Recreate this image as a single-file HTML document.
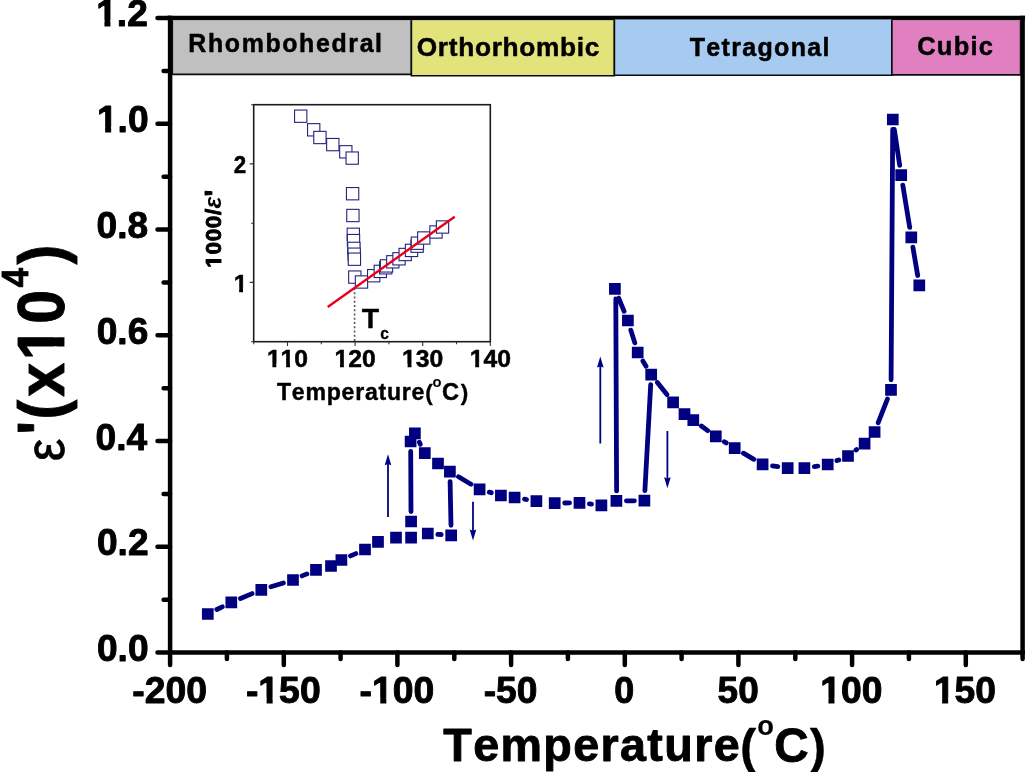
<!DOCTYPE html>
<html lang="en"><head><meta charset="utf-8"><title>Dielectric constant vs temperature</title>
<style>html,body{margin:0;padding:0;background:#fff;}body{width:1025px;height:772px;overflow:hidden;}svg{display:block;}</style>
</head><body>
<svg width="1025" height="772" viewBox="0 0 1025 772" font-family="'Liberation Sans', Arial, sans-serif" style="font-kerning:none">
<rect x="0" y="0" width="1025" height="772" fill="#ffffff"/>
<g stroke="#000" stroke-width="4.5" stroke-linecap="round" fill="none">
<path d="M170.1 18.0 V652.6 M170.1 652.6 H1025.6 M1022.6 18.0 V652.6" stroke-linecap="square"/>
<path d="M170.1 18.1 H1025.6" stroke-width="4.9" stroke-linecap="square"/>
<path d="M170.1 652.6 V664.9 M226.9 652.6 V659.0 M283.8 652.6 V664.9 M340.6 652.6 V659.0 M397.4 652.6 V664.9 M454.3 652.6 V659.0 M511.1 652.6 V664.9 M567.9 652.6 V659.0 M624.8 652.6 V664.9 M681.6 652.6 V659.0 M738.4 652.6 V664.9 M795.3 652.6 V659.0 M852.1 652.6 V664.9 M908.9 652.6 V659.0 M965.8 652.6 V664.9 M1022.6 652.6 V659.0 M170.1 652.6 H157.5 M170.1 599.7 H163.6 M170.1 546.8 H157.5 M170.1 493.9 H163.6 M170.1 441.1 H157.5 M170.1 388.2 H163.6 M170.1 335.3 H157.5 M170.1 282.4 H163.6 M170.1 229.5 H157.5 M170.1 176.7 H163.6 M170.1 123.8 H157.5 M170.1 70.9 H163.6 M170.1 18.0 H157.5 "/>
</g>
<rect x="172.3" y="20.3" width="239.1" height="54.1" fill="#c0c0c0"/>
<path d="M172.3 20.3V74.4H411.4V20.3" fill="none" stroke="#0c0c0c" stroke-width="1.6"/>
<rect x="411.4" y="20.3" width="203.0" height="55.5" fill="#e3e37c"/>
<path d="M411.4 20.3V75.8H614.4V20.3" fill="none" stroke="#0c0c0c" stroke-width="1.6"/>
<rect x="614.4" y="19.4" width="277.5" height="55.9" fill="#a6caf0"/>
<path d="M614.4 19.4V75.3H891.9V19.4" fill="none" stroke="#0c0c0c" stroke-width="1.6"/>
<rect x="891.9" y="20.4" width="128.7" height="54.5" fill="#e080c0"/>
<path d="M891.9 20.4V74.9H1020.6V20.4" fill="none" stroke="#0c0c0c" stroke-width="1.6"/>
<g fill="#000">
<text transform="translate(132.24 703.18) scale(1.0162 1.0000)" font-size="36.76" font-weight="bold" stroke="#000" stroke-width="0.9" stroke-linejoin="round" vector-effect="non-scaling-stroke">-200</text>
<text transform="translate(245.91 703.18) scale(1.0162 1.0000)" font-size="36.76" font-weight="bold" stroke="#000" stroke-width="0.9" stroke-linejoin="round" vector-effect="non-scaling-stroke">-150</text>
<text transform="translate(359.58 703.18) scale(1.0162 1.0000)" font-size="36.76" font-weight="bold" stroke="#000" stroke-width="0.9" stroke-linejoin="round" vector-effect="non-scaling-stroke">-100</text>
<text transform="translate(483.75 703.18) scale(1.0110 1.0000)" font-size="36.76" font-weight="bold" stroke="#000" stroke-width="0.9" stroke-linejoin="round" vector-effect="non-scaling-stroke">-50</text>
<text transform="translate(614.30 703.18) scale(0.9774 1.0000)" font-size="36.76" font-weight="bold" stroke="#000" stroke-width="0.9" stroke-linejoin="round" vector-effect="non-scaling-stroke">0</text>
<text transform="translate(717.61 703.18) scale(1.0054 1.0000)" font-size="36.76" font-weight="bold" stroke="#000" stroke-width="0.9" stroke-linejoin="round" vector-effect="non-scaling-stroke">50</text>
<text transform="translate(820.22 703.18) scale(1.0133 1.0000)" font-size="36.76" font-weight="bold" stroke="#000" stroke-width="0.9" stroke-linejoin="round" vector-effect="non-scaling-stroke">100</text>
<text transform="translate(933.88 703.18) scale(1.0133 1.0000)" font-size="36.76" font-weight="bold" stroke="#000" stroke-width="0.9" stroke-linejoin="round" vector-effect="non-scaling-stroke">150</text>
<text transform="translate(96.92 661.08) scale(0.9988 1.0000)" font-size="37.18" font-weight="bold" stroke="#000" stroke-width="0.9" stroke-linejoin="round" vector-effect="non-scaling-stroke">0.0</text>
<text transform="translate(96.92 555.31) scale(0.9988 1.0000)" font-size="37.18" font-weight="bold" stroke="#000" stroke-width="0.9" stroke-linejoin="round" vector-effect="non-scaling-stroke">0.2</text>
<text transform="translate(95.59 449.54) scale(0.9992 1.0000)" font-size="37.18" font-weight="bold" stroke="#000" stroke-width="0.9" stroke-linejoin="round" vector-effect="non-scaling-stroke">0.4</text>
<text transform="translate(96.73 343.78) scale(0.9988 1.0000)" font-size="37.18" font-weight="bold" stroke="#000" stroke-width="0.9" stroke-linejoin="round" vector-effect="non-scaling-stroke">0.6</text>
<text transform="translate(96.54 238.01) scale(0.9989 1.0000)" font-size="37.18" font-weight="bold" stroke="#000" stroke-width="0.9" stroke-linejoin="round" vector-effect="non-scaling-stroke">0.8</text>
<text transform="translate(96.93 132.24) scale(0.9985 1.0000)" font-size="37.18" font-weight="bold" stroke="#000" stroke-width="0.9" stroke-linejoin="round" vector-effect="non-scaling-stroke">1.0</text>
<text transform="translate(96.23 25.95) scale(0.9844 1.0000)" font-size="37.71" font-weight="bold" stroke="#000" stroke-width="0.9" stroke-linejoin="round" vector-effect="non-scaling-stroke">1.2</text>
<text transform="translate(188.33 52.30) scale(1.0000 1.0000)" font-size="24.90" font-weight="bold" stroke="#000" stroke-width="0.5" stroke-linejoin="round" vector-effect="non-scaling-stroke" letter-spacing="1.644">Rhombohedral</text>
<text transform="translate(416.70 55.99) scale(1.0000 1.0000)" font-size="26.26" font-weight="bold" stroke="#000" stroke-width="0.5" stroke-linejoin="round" vector-effect="non-scaling-stroke" letter-spacing="0.702">Orthorhombic</text>
<text transform="translate(689.70 55.79) scale(1.0000 1.0000)" font-size="25.03" font-weight="bold" stroke="#000" stroke-width="0.5" stroke-linejoin="round" vector-effect="non-scaling-stroke" letter-spacing="1.321">Tetragonal</text>
<text transform="translate(917.23 55.40) scale(1.0000 1.0000)" font-size="25.44" font-weight="bold" stroke="#000" stroke-width="0.5" stroke-linejoin="round" vector-effect="non-scaling-stroke" letter-spacing="1.245">Cubic</text>
<text transform="translate(443.00 762.00)" stroke-linejoin="round" vector-effect="non-scaling-stroke"><tspan x="0.28" y="-0.65" font-size="46.67" letter-spacing="1.373" font-weight="bold" stroke="#000" stroke-width="0.9">Temperature</tspan><tspan x="297.23" y="0.98" font-size="47.49" font-weight="bold" stroke="#000" stroke-width="0.5">(</tspan><tspan x="314.28" y="-26.97" font-size="27.27" font-weight="bold" stroke="#000" stroke-width="0.2">o</tspan><tspan x="331.20" y="-0.23" font-size="47.61" font-weight="bold" stroke="#000" stroke-width="0.9">C</tspan><tspan x="366.98" y="0.98" font-size="47.49" font-weight="bold" stroke="#000" stroke-width="0.5">)</tspan></text>
<text transform="translate(64.40 463.00) rotate(-90) scale(0.9200 1)" stroke-linejoin="round" vector-effect="non-scaling-stroke"><tspan x="1.80" y="-0.30" font-size="55.27" font-weight="normal" stroke="#000" stroke-width="0.7">ε</tspan><tspan x="30.78" y="-3.82" font-size="62.80" font-weight="bold" stroke="#000" stroke-width="0.9">'</tspan><tspan x="47.16" y="-0.74" font-size="64.71" font-weight="bold" stroke="#000" stroke-width="0.9">(</tspan><tspan x="72.00" y="-0.51" font-size="66.34" letter-spacing="2.736" font-weight="bold" stroke="#000" stroke-width="0.9">x10</tspan><tspan x="190.97" y="-36.85" font-size="37.54" font-weight="bold" stroke="#000" stroke-width="0.9">4</tspan><tspan x="215.83" y="-0.74" font-size="64.71" font-weight="bold" stroke="#000" stroke-width="0.9">)</tspan></text>
</g>
<path d="M216.8 609.5L222.3 606.8M240.5 598.5L252.1 593.6M270.9 586.8L283.4 583.0M302.1 575.9L306.9 573.9M350.5 555.9L355.9 553.6M411.0 511.5L410.7 451.5M419.4 442.2L420.3 444.2M458.5 476.7L471.0 484.3M489.2 492.2L491.3 492.7M524.5 499.1L526.5 499.5M564.7 503.0L569.5 502.9M589.4 503.9L591.5 504.2M618.7 298.1L624.1 311.3M630.8 330.1L634.8 342.9M642.9 361.0L646.0 366.2M657.4 382.5L666.9 394.6M701.4 426.0L707.7 430.6M724.3 441.7L726.2 442.9M743.4 453.2L753.9 459.3M772.5 465.8L777.8 466.7M814.3 466.6L817.8 466.1M836.9 460.6L838.8 459.9M856.0 450.0L856.6 449.6M878.2 422.7L887.4 399.1M891.1 379.8L892.7 129.5M894.3 129.4L899.7 165.3M902.8 185.1L909.7 227.4M912.9 247.2L917.7 275.5M450.1 481.6L451.0 525.3M441.2 534.5L437.8 534.3M650.7 384.7L644.9 490.7M634.4 500.8L626.4 500.8M616.6 490.9L615.8 298.9" stroke="#000080" stroke-width="4.8" stroke-linecap="round" fill="none"/>
<path d="M201.95 608.15h11.7v11.7h-11.7zM225.45 596.45h11.7v11.7h-11.7zM255.45 583.95h11.7v11.7h-11.7zM287.15 574.15h11.7v11.7h-11.7zM310.15 563.95h11.7v11.7h-11.7zM325.15 560.15h11.7v11.7h-11.7zM335.55 554.15h11.7v11.7h-11.7zM359.15 543.65h11.7v11.7h-11.7zM372.15 535.95h11.7v11.7h-11.7zM390.15 531.85h11.7v11.7h-11.7zM405.25 531.85h11.7v11.7h-11.7zM405.25 515.65h11.7v11.7h-11.7zM404.75 435.65h11.7v11.7h-11.7zM409.05 427.45h11.7v11.7h-11.7zM418.95 447.25h11.7v11.7h-11.7zM432.15 457.65h11.7v11.7h-11.7zM444.05 465.75h11.7v11.7h-11.7zM473.75 483.55h11.7v11.7h-11.7zM495.05 489.65h11.7v11.7h-11.7zM508.75 491.65h11.7v11.7h-11.7zM530.55 495.25h11.7v11.7h-11.7zM548.85 497.25h11.7v11.7h-11.7zM573.65 496.95h11.7v11.7h-11.7zM595.55 499.45h11.7v11.7h-11.7zM610.55 495.05h11.7v11.7h-11.7zM609.05 283.05h11.7v11.7h-11.7zM622.05 314.65h11.7v11.7h-11.7zM631.85 346.65h11.7v11.7h-11.7zM645.35 368.85h11.7v11.7h-11.7zM667.25 396.55h11.7v11.7h-11.7zM678.65 408.35h11.7v11.7h-11.7zM687.45 414.35h11.7v11.7h-11.7zM709.95 430.55h11.7v11.7h-11.7zM728.85 442.35h11.7v11.7h-11.7zM756.75 458.45h11.7v11.7h-11.7zM781.85 462.35h11.7v11.7h-11.7zM798.55 462.35h11.7v11.7h-11.7zM821.85 458.65h11.7v11.7h-11.7zM842.15 450.15h11.7v11.7h-11.7zM858.75 437.75h11.7v11.7h-11.7zM868.75 426.15h11.7v11.7h-11.7zM885.15 383.95h11.7v11.7h-11.7zM886.95 113.65h11.7v11.7h-11.7zM895.35 169.35h11.7v11.7h-11.7zM905.45 231.45h11.7v11.7h-11.7zM913.45 279.55h11.7v11.7h-11.7zM445.35 529.45h11.7v11.7h-11.7zM421.95 527.65h11.7v11.7h-11.7zM638.55 494.85h11.7v11.7h-11.7z" fill="#000080"/>
<path d="M388 517 V463.3" stroke="#000080" stroke-width="1.8" fill="none"/>
<path d="M388 454.3 L384.7 465.3 L388 464.1 L391.3 465.3 Z" fill="#000080"/>
<path d="M473 501.7 V531.5" stroke="#000080" stroke-width="1.8" fill="none"/>
<path d="M473 540.5 L469.7 529.5 L473 530.7 L476.3 529.5 Z" fill="#000080"/>
<path d="M600.3 443.5 V365.6" stroke="#000080" stroke-width="1.8" fill="none"/>
<path d="M600.3 356.6 L597.0 367.6 L600.3 366.40000000000003 L603.5999999999999 367.6 Z" fill="#000080"/>
<path d="M667.4 431 V479.2" stroke="#000080" stroke-width="1.8" fill="none"/>
<path d="M667.4 488.2 L664.1 477.2 L667.4 478.4 L670.6999999999999 477.2 Z" fill="#000080"/>
<rect x="253.7" y="104.7" width="236.60000000000002" height="237.0" fill="#fff" stroke="#1c1c1c" stroke-width="1.6"/>
<path d="M253.7 341.7v2.6M287.5 341.7v4.2M321.3 341.7v2.6M355.1 341.7v4.2M388.9 341.7v2.6M422.7 341.7v4.2M456.5 341.7v2.6M490.3 341.7v4.2M253.7 341.7h-2.6M253.7 282.4h-4.0M253.7 223.2h-2.6M253.7 163.9h-4.0M253.7 104.7h-2.6" stroke="#333" stroke-width="1.1" fill="none"/>
<g fill="#000">
<text transform="translate(266.88 367.31) scale(1.0444 1.0000)" font-size="23.66" font-weight="bold" stroke="#000" stroke-width="0.5" stroke-linejoin="round" vector-effect="non-scaling-stroke">110</text>
<text transform="translate(334.48 367.31) scale(1.0444 1.0000)" font-size="23.66" font-weight="bold" stroke="#000" stroke-width="0.5" stroke-linejoin="round" vector-effect="non-scaling-stroke">120</text>
<text transform="translate(402.08 367.31) scale(1.0444 1.0000)" font-size="23.66" font-weight="bold" stroke="#000" stroke-width="0.5" stroke-linejoin="round" vector-effect="non-scaling-stroke">130</text>
<text transform="translate(469.68 367.31) scale(1.0444 1.0000)" font-size="23.66" font-weight="bold" stroke="#000" stroke-width="0.5" stroke-linejoin="round" vector-effect="non-scaling-stroke">140</text>
<text transform="translate(233.77 172.95) scale(0.9400 1.0000)" font-size="23.71" font-weight="bold" stroke="#000" stroke-width="0.5" stroke-linejoin="round" vector-effect="non-scaling-stroke">2</text>
<text transform="translate(233.63 291.55) scale(1.0409 1.0000)" font-size="23.62" font-weight="bold" stroke="#000" stroke-width="0.5" stroke-linejoin="round" vector-effect="non-scaling-stroke">1</text>
<text transform="translate(277.00 400.00)" stroke-linejoin="round" vector-effect="non-scaling-stroke"><tspan x="-0.03" y="-0.15" font-size="23.11" letter-spacing="0.740" font-weight="bold" stroke="#000" stroke-width="0.4">Temperature</tspan><tspan x="148.21" y="0.21" font-size="22.57" font-weight="bold" stroke="#000" stroke-width="0.3">(</tspan><tspan x="155.56" y="-12.75" font-size="14.73" font-weight="bold">o</tspan><tspan x="165.05" y="-0.04" font-size="23.66" font-weight="bold" stroke="#000" stroke-width="0.4">C</tspan><tspan x="183.68" y="0.21" font-size="22.57" font-weight="bold" stroke="#000" stroke-width="0.3">)</tspan></text>
<text transform="translate(221.00 267.00) rotate(-90)" stroke-linejoin="round" vector-effect="non-scaling-stroke"><tspan x="-0.69" y="-0.40" font-size="22.28" letter-spacing="0.786" font-weight="bold" stroke="#000" stroke-width="0.9">1000/</tspan><tspan x="58.63" y="0.35" font-size="24.73" font-weight="bold" font-style="italic">ε</tspan><tspan x="70.59" y="2.55" font-size="28.40" font-weight="bold" stroke="#000" stroke-width="0.9">'</tspan></text>
<text transform="translate(362.00 328.00)" stroke-linejoin="round" vector-effect="non-scaling-stroke"><tspan x="-0.21" y="-0.15" font-size="28.55" font-weight="bold" stroke="#000" stroke-width="0.3">T</tspan><tspan x="18.18" y="10.99" font-size="15.64" font-weight="bold" stroke="#000" stroke-width="0.3">c</tspan></text>
</g>
<path d="M257.98 697.67h8.63v9.19h-8.63zM272.66 697.67h7.36v9.19h-7.36zM371.65 697.67h8.63v9.19h-8.63zM386.33 697.67h7.36v9.19h-7.36zM819.85 697.67h8.60v9.19h-8.60zM834.49 697.67h7.34v9.19h-7.34zM933.51 697.67h8.60v9.19h-8.60zM948.15 697.67h7.34v9.19h-7.34zM96.56 126.67h8.57v9.30h-8.57zM111.15 126.67h7.31v9.30h-7.31zM95.86 20.29h8.57v9.43h-8.57zM110.45 20.29h7.31v9.43h-7.31zM53.94 346.53h16.58v14.38h-16.58zM53.94 324.90h16.58v12.31h-16.58zM266.63 363.76h5.76v5.92h-5.76zM276.30 363.76h4.92v5.92h-4.92zM280.38 363.76h5.76v5.92h-5.76zM290.04 363.76h4.92v5.92h-4.92zM334.23 363.76h5.76v5.92h-5.76zM343.90 363.76h4.92v5.92h-4.92zM401.83 363.76h5.76v5.92h-5.76zM411.50 363.76h4.92v5.92h-4.92zM469.43 363.76h5.76v5.92h-5.76zM479.10 363.76h4.92v5.92h-4.92zM233.38 288.01h5.73v5.91h-5.73zM243.00 288.01h4.89v5.91h-4.89zM217.26 262.95h5.57v4.96h-5.57zM217.26 254.76h5.57v4.21h-5.57z" fill="#ffffff"/>
<path d="M354.6 288 V341.7" stroke="#555555" stroke-width="1.6" stroke-dasharray="1.9 2.35" fill="none"/>
<g fill="#ffffff" stroke="#24247e" stroke-width="1.1">
<rect x="294.55" y="110.05" width="12.3" height="12.3"/>
<rect x="307.55" y="123.65" width="12.3" height="12.3"/>
<rect x="313.75" y="131.35" width="12.3" height="12.3"/>
<rect x="326.65" y="138.45" width="12.3" height="12.3"/>
<rect x="339.65" y="145.65" width="12.3" height="12.3"/>
<rect x="346.05" y="151.95" width="12.3" height="12.3"/>
<rect x="346.45" y="187.55" width="12.3" height="12.3"/>
<rect x="346.75" y="209.35" width="12.3" height="12.3"/>
<rect x="347.15" y="228.15" width="12.3" height="12.3"/>
<rect x="347.35" y="234.45" width="12.3" height="12.3"/>
<rect x="347.75" y="242.25" width="12.3" height="12.3"/>
<rect x="348.05" y="248.05" width="12.3" height="12.3"/>
<rect x="348.25" y="253.05" width="12.3" height="12.3"/>
<rect x="348.65" y="270.95" width="12.3" height="12.3"/>
<rect x="355.35" y="275.85" width="12.3" height="12.3"/>
<rect x="367.55" y="269.55" width="12.3" height="12.3"/>
<rect x="374.15" y="265.25" width="12.3" height="12.3"/>
<rect x="379.55" y="261.65" width="12.3" height="12.3"/>
<rect x="380.35" y="259.75" width="12.3" height="12.3"/>
<rect x="386.65" y="255.65" width="12.3" height="12.3"/>
<rect x="392.85" y="252.65" width="12.3" height="12.3"/>
<rect x="399.05" y="248.35" width="12.3" height="12.3"/>
<rect x="405.35" y="244.25" width="12.3" height="12.3"/>
<rect x="410.95" y="240.05" width="12.3" height="12.3"/>
<rect x="411.25" y="237.05" width="12.3" height="12.3"/>
<rect x="417.65" y="231.85" width="12.3" height="12.3"/>
<rect x="429.85" y="225.85" width="12.3" height="12.3"/>
<rect x="436.35" y="220.85" width="12.3" height="12.3"/>
</g>
<path d="M327.7 306.9 L454.7 216.8" stroke="#e8001c" stroke-width="2.4" fill="none"/>
</svg>
</body></html>
